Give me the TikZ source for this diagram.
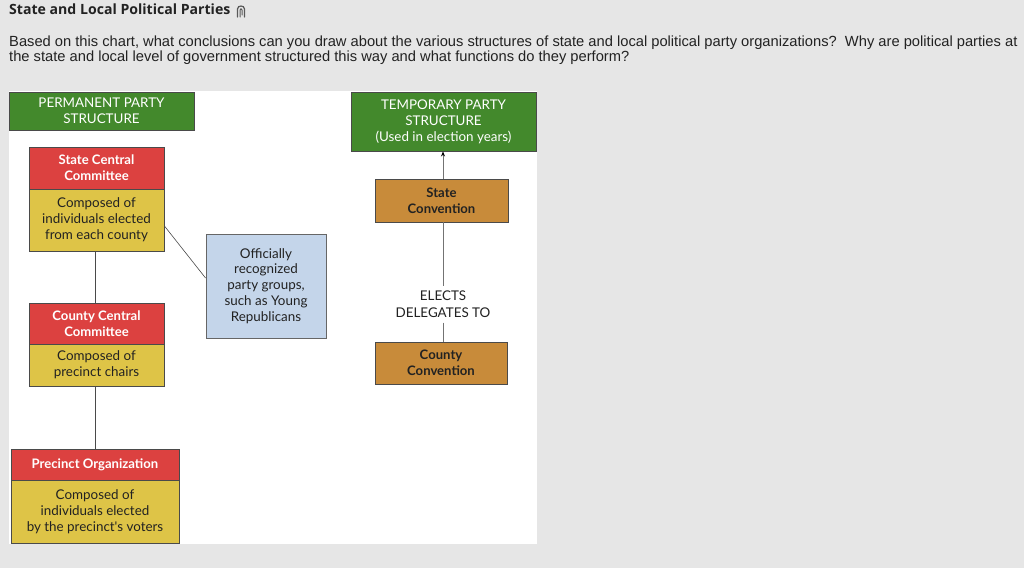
\documentclass[tikz,border=0pt]{standalone}
\usepackage{fontspec}
\setmainfont{Liberation Sans}
\newfontfamily\diagfont{Lato}
\newfontfamily\titlefont{Open Sans}
\usetikzlibrary{arrows.meta}
\definecolor{bggray}{HTML}{E6E6E6}
\definecolor{pgreen}{HTML}{43892C}
\definecolor{pred}{HTML}{DC4140}
\definecolor{pyellow}{HTML}{DEC447}
\definecolor{pbrown}{HTML}{C88B3A}
\definecolor{pblue}{HTML}{C4D5EA}
\definecolor{pborder}{HTML}{4A4A4A}
\definecolor{ptext}{HTML}{222222}
\tikzset{
  basebox/.style={draw=pborder, line width=0.9pt, inner sep=0pt, align=center, font=\diagfont\fontsize{13.4}{15.8}\selectfont, text=ptext},
  greenbox/.style={basebox, fill=pgreen, text=white},
  redbox/.style={basebox, fill=pred, text=white, font=\diagfont\bfseries\fontsize{13.1}{15.8}\selectfont},
  yellowbox/.style={basebox, fill=pyellow},
  brownbox/.style={basebox, fill=pbrown, font=\diagfont\bfseries\fontsize{13.1}{15.8}\selectfont},
  bluebox/.style={basebox, fill=pblue, draw=gray!80!black},
  link/.style={draw=pborder, line width=0.8pt},
}
\begin{document}
\begin{tikzpicture}[x=1pt,y=-1pt]
\fill[bggray] (0,0) rectangle (1024,568);
\fill[white] (9,91) rectangle (537,544);

% title and question
\node[anchor=base west, inner sep=0pt, font=\titlefont\bfseries\fontsize{14.1}{16}\selectfont, text=ptext] (title) at (9,14.5) {State and Local Political Parties};
\draw[gray!70!black, line width=1.2pt, line cap=round] (237.5,17) -- (237.5,9) .. controls (237.5,5) and (244.5,5) .. (244.5,9) -- (244.5,17);
\draw[gray!70!black, line width=1pt, line cap=round] (240,17) -- (240,10) .. controls (240,8.5) and (242,8.5) .. (242,10) -- (242,15);
\node[anchor=base west, inner sep=0pt, align=left, font=\fontsize{14.7}{15.2}\selectfont, text=ptext] (question) at (9,61.5) {Based on this chart, what conclusions can you draw about the various structures of state and local political party organizations?\ \ Why are political parties at\\the state and local level of government structured this way and what functions do they perform?};

% permanent structure
\node[greenbox, minimum width=185pt, minimum height=38pt] (perm) at (101.5,111) {PERMANENT PARTY\\STRUCTURE};
\node[redbox, minimum width=135pt, minimum height=42pt] (scc) at (96.5,168) {State Central\\Committee};
\node[yellowbox, minimum width=135pt, minimum height=62pt] (sccd) at (96.5,220) {Composed of\\individuals elected\\from each county};
\node[redbox, minimum width=135pt, minimum height=41pt] (ccc) at (96.5,323.5) {County Central\\Committee};
\node[yellowbox, minimum width=135pt, minimum height=42pt] (cccd) at (96.5,365) {Composed of\\precinct chairs};
\node[redbox, minimum width=168pt, minimum height=31pt] (po) at (95,464.5) {Precinct Organization};
\node[yellowbox, minimum width=168pt, minimum height=63pt] (pod) at (95,511.5) {Composed of\\individuals elected\\by the precinct's voters};
\node[bluebox, minimum width=120pt, minimum height=104pt] (groups) at (266,286) {Officially\\recognized\\party groups,\\such as Young\\Republicans};

% temporary structure
\node[greenbox, minimum width=185pt, minimum height=59pt] (temp) at (443.5,121.5) {TEMPORARY PARTY\\STRUCTURE\\(Used in election years)};
\node[brownbox, minimum width=133pt, minimum height=43pt] (sconv) at (441.5,200.5) {State\\Convention};
\node[brownbox, minimum width=132pt, minimum height=42pt] (cconv) at (441,363) {County\\Convention};
\node[inner sep=0pt, minimum height=36pt, align=center, font=\diagfont\fontsize{13.4}{17}\selectfont, text=ptext] (elects) at (443,304.5) {ELECTS\\DELEGATES TO};

% connectors
\draw[link] (sccd.south -| 95,0) -- (ccc.north -| 95,0);
\draw[link] (cccd.south -| 95,0) -- (po.north -| 95,0);
\draw[link, line width=0.6pt] (sccd.east |- 0,226) -- (groups.west |- 0,278);
\draw[link, draw=gray!90!black, -{Stealth[length=5pt,width=4pt,color=black]}] (sconv.north -| 443,0) -- (temp.south -| 443,0);
\draw[link, draw=gray!90!black] (sconv.south -| 443,0) -- (elects.north -| 443,0);
\draw[link, draw=gray!90!black] (elects.south -| 443,0) -- (cconv.north -| 443,0);
\end{tikzpicture}
\end{document}
